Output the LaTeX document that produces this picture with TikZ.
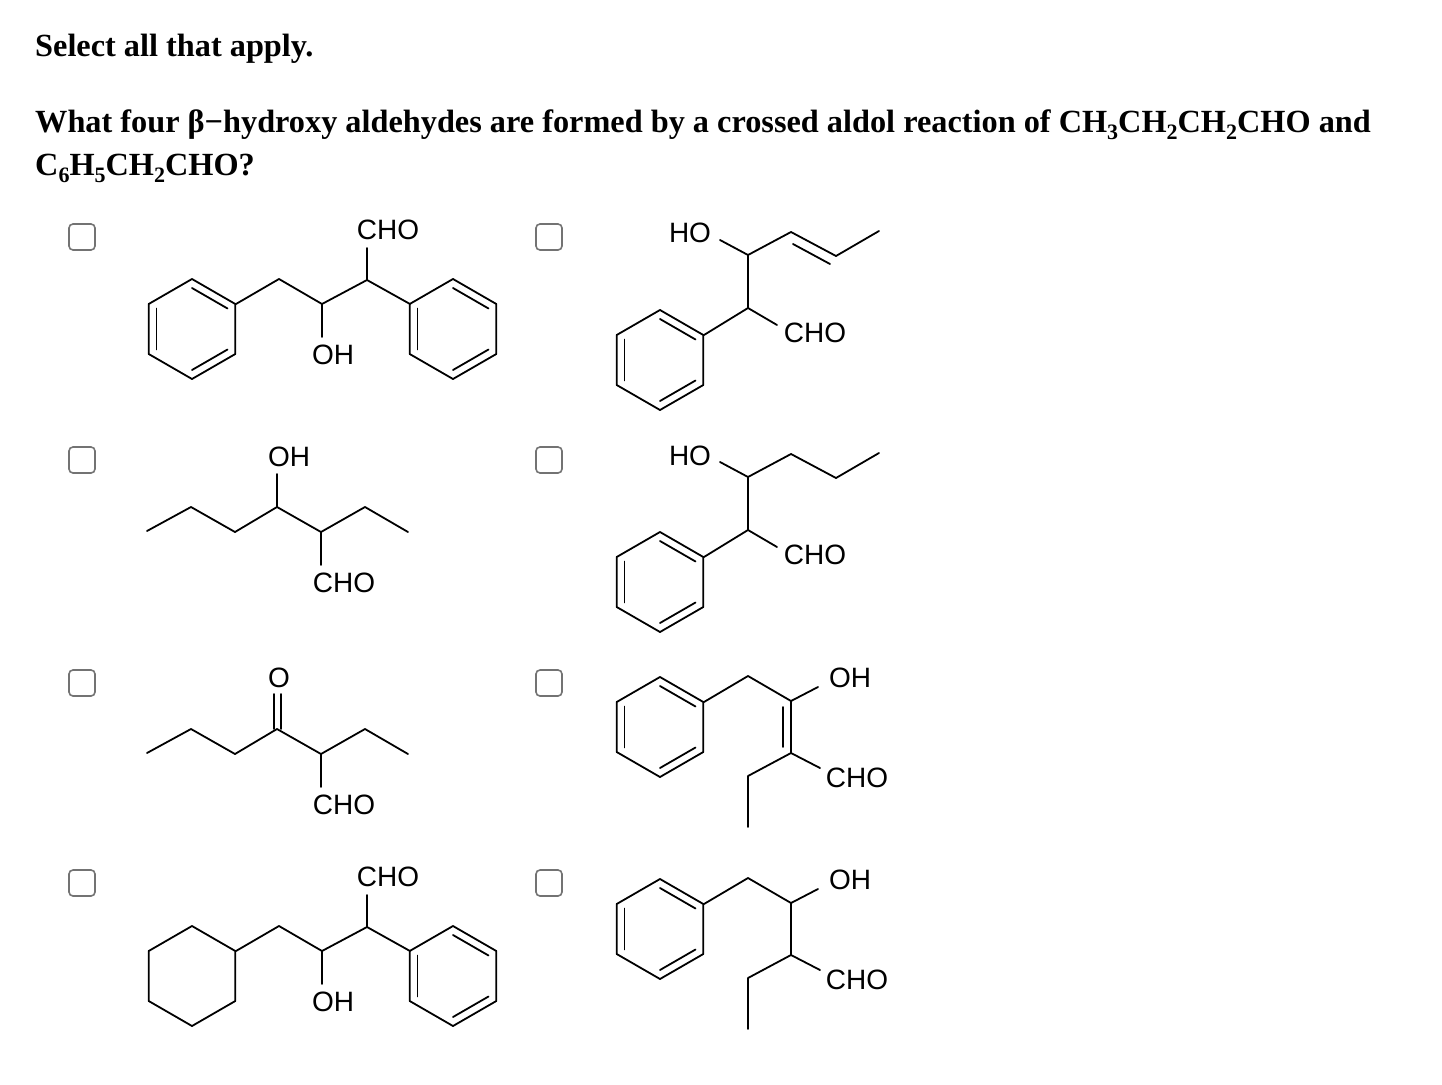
\documentclass[tikz,border=0pt]{standalone}
\usepackage{fontspec}
\setmainfont{Liberation Serif}
\setsansfont{Liberation Sans}
\tikzset{
 bond/.style={line width=1.8pt,line cap=round,line join=round},
 lab/.style={font=\sffamily\fontsize{28}{30}\selectfont,inner sep=0pt},
 ttl/.style={font=\bfseries\fontsize{32.3}{36}\selectfont,inner sep=0pt,anchor=base west},
 chk/.style={draw=black!55,line width=1.6pt,rounded corners=4pt,minimum width=26pt,minimum height=26pt,inner sep=0pt}
}
\newcommand{\hexring}[2]{%
 \draw[bond] (#1,#2)+(-90:50) -- +(-30:50) -- +(30:50) -- +(90:50) -- +(150:50) -- +(210:50) -- cycle;}
\newcommand{\benz}[2]{%
 \hexring{#1}{#2}
 \draw[bond] (#1,#2)+(-90:41) -- +(-30:41);
 \draw[bond] (#1,#2)+(30:41) -- +(90:41);
 \draw[bond] (#1,#2)+(150:41) -- +(210:41);}
\newcommand{\sbs}[1]{\raisebox{-0.22em}{\fontsize{22}{24}\selectfont #1}}
\begin{document}
\begin{tikzpicture}[x=1pt,y=-1pt]
\useasboundingbox (0,0) rectangle (1442,1084);
\fill[white] (0,0) rectangle (1442,1084);
\node[ttl] (t1) at (35,56) {Select all that apply.};
\node[ttl] (t2) at (35,132) {What four β−hydroxy aldehydes are formed by a crossed aldol reaction of CH\sbs{3}CH\sbs{2}CH\sbs{2}CHO and};
\node[ttl] (t3) at (35,175) {C\sbs{6}H\sbs{5}CH\sbs{2}CHO?};
% checkboxes
\node[chk] (c1) at (82,237) {};
\node[chk] (c2) at (549,237) {};
\node[chk] (c3) at (82,460) {};
\node[chk] (c4) at (549,460) {};
\node[chk] (c5) at (82,683) {};
\node[chk] (c6) at (549,683) {};
\node[chk] (c7) at (82,883) {};
\node[chk] (c8) at (549,883) {};
% structure 1
\benz{192}{329}
\benz{453}{329}
\draw[bond] (236,304) -- (279,279) -- (322,304) -- (367,280) -- (410,304);
\draw[bond] (322,304) -- (322,337);
\draw[bond] (367,280) -- (367,248);
\node[lab] (s1oh) at (333,355) {OH};
\node[lab] (s1cho) at (388,230) {CHO};
% structure 2
\benz{660}{360}
\node[lab] (s2ho) at (690,233) {HO};
\draw[bond] (720,240) -- (748,255) -- (791,232) -- (836,256) -- (879,231);
\draw[bond] (793,244) -- (830,264);
\draw[bond] (748,255) -- (748,308) -- (704,335);
\draw[bond] (748,308) -- (777,325);
\node[lab] (s2cho) at (815,333) {CHO};
% structure 3
\draw[bond] (147,531) -- (191,507) -- (235,532) -- (277,507) -- (321,532) -- (365,507) -- (408,532);
\draw[bond] (277,507) -- (277,474);
\draw[bond] (321,532) -- (321,565);
\node[lab] (s3oh) at (289,457) {OH};
\node[lab] (s3cho) at (344,583) {CHO};
% structure 4
\benz{660}{582}
\node[lab] (s4ho) at (690,456) {HO};
\draw[bond] (720,462) -- (748,477) -- (791,454) -- (836,478) -- (879,453);
\draw[bond] (748,477) -- (748,530) -- (704,557);
\draw[bond] (748,530) -- (777,547);
\node[lab] (s4cho) at (815,555) {CHO};
% structure 5 (row 3 left)
\draw[bond] (147,753) -- (191,729) -- (235,754) -- (277,729) -- (321,754) -- (365,729) -- (408,754);
\draw[bond] (274,729) -- (274,694);
\draw[bond] (281,729) -- (281,694);
\draw[bond] (321,754) -- (321,787);
\node[lab] (s5o) at (279,678) {O};
\node[lab] (s5cho) at (344,805) {CHO};
% structure 6 (row 3 right)
\benz{660}{727}
\draw[bond] (704,702) -- (748,676) -- (791,701) -- (818,687);
\node[lab] (s6oh) at (850,678) {OH};
\draw[bond] (791,701) -- (791,753);
\draw[bond] (783,707) -- (783,747);
\draw[bond] (791,753) -- (820,768);
\node[lab] (s6cho) at (857,778) {CHO};
\draw[bond] (791,753) -- (748,776) -- (748,827);
% structure 7 (row 4 left)
\hexring{192}{976}
\benz{453}{976}
\draw[bond] (236,951) -- (279,926) -- (322,951) -- (367,927) -- (410,951);
\draw[bond] (322,951) -- (322,984);
\draw[bond] (367,927) -- (367,895);
\node[lab] (s7oh) at (333,1002) {OH};
\node[lab] (s7cho) at (388,877) {CHO};
% structure 8 (row 4 right)
\benz{660}{929}
\draw[bond] (704,904) -- (748,878) -- (791,903) -- (818,889);
\node[lab] (s8oh) at (850,880) {OH};
\draw[bond] (791,903) -- (791,955) -- (820,970);
\node[lab] (s8cho) at (857,980) {CHO};
\draw[bond] (791,955) -- (748,978) -- (748,1029);
\end{tikzpicture}
\end{document}
